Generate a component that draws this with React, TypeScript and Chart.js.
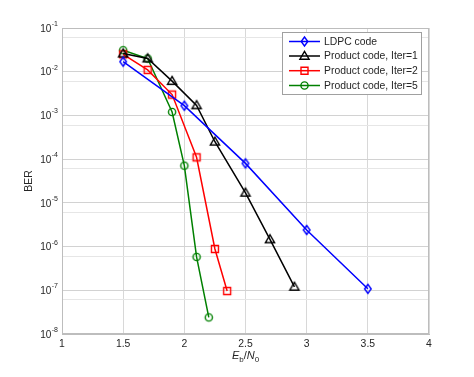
import React, { useEffect, useRef } from "react";
import { Chart, registerables } from "chart.js";

Chart.register(...registerables);

const ldpcX = [1.5, 2.0, 2.5, 3.0, 3.5];
const ldpcY = [1.7e-2, 1.67e-3, 8.0e-5, 2.4e-6, 1.08e-7];

const iter1X = [1.5, 1.7, 1.9, 2.1, 2.25, 2.5, 2.7, 2.9];
const iter1Y = [2.6e-2, 2.0e-2, 6.1e-3, 1.7e-3, 2.5e-4, 1.7e-5, 1.46e-6, 1.2e-7];

const iter2X = [1.5, 1.7, 1.9, 2.1, 2.25, 2.35];
const iter2Y = [2.5e-2, 1.1e-2, 3.0e-3, 1.1e-4, 8.8e-7, 9.6e-8];

const iter5X = [1.5, 1.7, 1.9, 2.0, 2.1, 2.2];
const iter5Y = [3.1e-2, 2.0e-2, 1.2e-3, 7.1e-5, 5.8e-7, 2.4e-8];

const seriesNames = ["LDPC code", "Product code, Iter=1", "Product code, Iter=2", "Product code, Iter=5"];
const seriesColors = ["#0000ff", "#000000", "#ff0000", "#008000"];
const seriesMarkers = ["diamond", "triangle", "square", "circle"];

const xTicks = [1, 1.5, 2, 2.5, 3, 3.5, 4];
const yExponents = [-8, -7, -6, -5, -4, -3, -2, -1];

const FONT = "'Liberation Sans', Arial, sans-serif";

function pts(xs: number[], ys: number[]) {
  return xs.map((x, i) => ({ x, y: ys[i] }));
}

function markerPath(ctx: CanvasRenderingContext2D, style: string, x: number, y: number) {
  ctx.beginPath();
  if (style === "circle") {
    ctx.arc(x, y, 3.6, 0, Math.PI * 2);
  } else if (style === "square") {
    ctx.rect(x - 3.5, y - 3.5, 7, 7);
  } else if (style === "diamond") {
    ctx.moveTo(x, y - 4.5);
    ctx.lineTo(x + 3.3, y);
    ctx.lineTo(x, y + 4.5);
    ctx.lineTo(x - 3.3, y);
    ctx.closePath();
  } else if (style === "triangle") {
    ctx.moveTo(x, y - 4.6);
    ctx.lineTo(x + 4.6, y + 3.2);
    ctx.lineTo(x - 4.6, y + 3.2);
    ctx.closePath();
  }
}

function makeMarker(style: string, color: string): HTMLCanvasElement {
  const c = document.createElement("canvas");
  c.width = 14;
  c.height = 14;
  const ctx = c.getContext("2d")!;
  ctx.strokeStyle = color;
  ctx.lineWidth = 1.4;
  markerPath(ctx, style, 7, 7);
  ctx.stroke();
  return c;
}

const textPlugin = {
  id: "matlabText",
  afterDraw(chart: any) {
    const ctx = chart.ctx;
    const area = chart.chartArea;
    const ys = chart.scales.y;
    ctx.save();
    ctx.fillStyle = "#262626";
    for (const e of yExponents) {
      const py = ys.getPixelForValue(Math.pow(10, e));
      const expStr = String(e);
      ctx.font = `7px ${FONT}`;
      const ew = ctx.measureText(expStr).width;
      const xr = area.left - 4;
      ctx.textAlign = "left";
      ctx.textBaseline = "alphabetic";
      ctx.fillText(expStr, xr - ew, py - 2);
      ctx.font = `10px ${FONT}`;
      ctx.textAlign = "right";
      ctx.textBaseline = "middle";
      ctx.fillText("10", xr - ew - 0.5, py + 1);
    }
    ctx.save();
    ctx.translate(29, (area.top + area.bottom) / 2);
    ctx.rotate(-Math.PI / 2);
    ctx.font = `10.5px ${FONT}`;
    ctx.textAlign = "center";
    ctx.textBaseline = "middle";
    ctx.fillText("BER", 0, 0);
    ctx.restore();
    const parts: [string, string, number][] = [
      ["E", "italic 11px", 0],
      ["b", "8px", 3],
      ["/", "11px", 0],
      ["N", "italic 11px", 0],
      ["0", "8px", 3],
    ];
    let total = 0;
    for (const [t, f] of parts) {
      ctx.font = `${f} ${FONT}`;
      total += ctx.measureText(t).width;
    }
    let x = (area.left + area.right) / 2 - total / 2;
    const base = 359;
    ctx.textAlign = "left";
    ctx.textBaseline = "alphabetic";
    for (const [t, f, dy] of parts) {
      ctx.font = `${f} ${FONT}`;
      ctx.fillText(t, x, base + dy);
      x += ctx.measureText(t).width;
    }
    const lx0 = 282, ly0 = 32, lx1 = 422, ly1 = 95;
    ctx.fillStyle = "#ffffff";
    ctx.fillRect(lx0, ly0, lx1 - lx0, ly1 - ly0);
    ctx.strokeStyle = "#a0a0a0";
    ctx.lineWidth = 1;
    ctx.strokeRect(lx0 + 0.5, ly0 + 0.5, lx1 - lx0 - 1, ly1 - ly0 - 1);
    const rowY = [41.5, 56, 70.7, 85.5];
    chart.data.datasets.forEach((ds: any, i: number) => {
      const y = rowY[i];
      ctx.strokeStyle = ds.borderColor;
      ctx.lineWidth = 1.5;
      ctx.beginPath();
      ctx.moveTo(289, y);
      ctx.lineTo(320, y);
      ctx.stroke();
      ctx.lineWidth = 1.4;
      markerPath(ctx, seriesMarkers[i], 304.5, y);
      ctx.stroke();
      ctx.fillStyle = "#262626";
      ctx.font = `10.4px ${FONT}`;
      ctx.textAlign = "left";
      ctx.textBaseline = "middle";
      ctx.fillText(seriesNames[i], 324, y + 0.5);
    });
    ctx.restore();
  },
};

export default function App() {
  const ref = useRef<HTMLCanvasElement | null>(null);
  useEffect(() => {
    if (!ref.current) return;
    const data = [pts(ldpcX, ldpcY), pts(iter1X, iter1Y), pts(iter2X, iter2Y), pts(iter5X, iter5Y)];
    const chart = new Chart(ref.current, {
      type: "line",
      data: {
        datasets: data.map((d, i) => ({
          label: seriesNames[i],
          data: d,
          borderColor: seriesColors[i],
          backgroundColor: "rgba(0,0,0,0)",
          pointStyle: makeMarker(seriesMarkers[i], seriesColors[i]) as any,
          pointRadius: 4,
          borderWidth: 1.5,
          tension: 0,
          fill: false,
        })),
      },
      options: {
        responsive: false,
        animation: false,
        layout: { padding: { left: 0, right: 45, top: 28, bottom: 0 } },
        plugins: { legend: { display: false }, tooltip: { enabled: false } },
        scales: {
          x: {
            type: "linear",
            min: 1,
            max: 4,
            afterBuildTicks: (s: any) => {
              s.ticks = xTicks.map((v) => ({ value: v }));
            },
            afterFit: (s: any) => {
              s.height = 43;
            },
            ticks: {
              font: { family: FONT, size: 10.4 },
              color: "#262626",
              padding: 4,
              maxRotation: 0,
              callback: (v: any) => String(v),
            },
            grid: { color: "#d8d8d8", drawTicks: false, lineWidth: 1 },
            border: { color: "#bdbdbd", width: 1 },
          },
          y: {
            type: "logarithmic",
            min: 1e-8,
            max: 1e-1,
            afterBuildTicks: (s: any) => {
              const t: any[] = [];
              for (let e = -8; e <= -1; e++) {
                for (let k = 1; k <= 9; k++) {
                  const v = k * Math.pow(10, e);
                  if (v <= 1e-1 * 1.0001) t.push({ value: v, major: k === 1 });
                }
              }
              s.ticks = t;
            },
            afterFit: (s: any) => {
              s.width = 62;
            },
            ticks: { display: true, callback: () => "", padding: 0 },
            grid: {
              drawTicks: false,
              color: (c: any) => (c.tick && c.tick.major ? "#d2d2d2" : "#e6e6e6"),
              lineWidth: 1,
            },
            border: { color: "#bdbdbd", width: 1 },
          },
        },
      },
      plugins: [
        textPlugin,
        {
          id: "box",
          afterDatasetsDraw(chart: any) {
            const { ctx, chartArea: a } = chart;
            ctx.save();
            ctx.strokeStyle = "#bdbdbd";
            ctx.lineWidth = 1;
            ctx.strokeRect(a.left + 0.5, a.top + 0.5, a.right - a.left - 1, a.bottom - a.top - 1);
            ctx.restore();
          },
        },
      ],
    });
    return () => chart.destroy();
  }, []);
  return (
    <div style={{ position: "absolute", left: 0, top: 0, width: 474, height: 377, background: "#fff" }}>
      <canvas ref={ref} width={474} height={377} style={{ display: "block" }} />
    </div>
  );
}
